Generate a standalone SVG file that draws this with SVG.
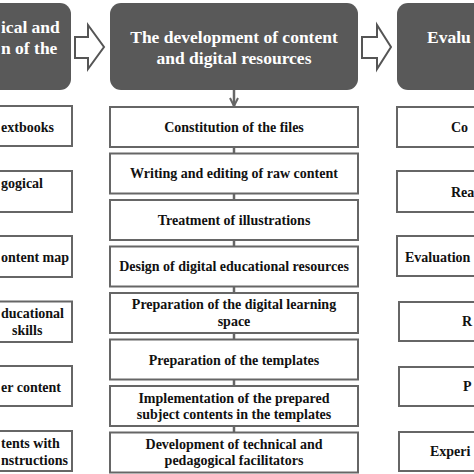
<svg xmlns="http://www.w3.org/2000/svg" width="474" height="474" viewBox="0 0 474 474">
<defs>
<style>
.hdr{fill:#595959;}
.box{fill:#fff;stroke:#666;stroke-width:2;}
.ht{font-family:"Liberation Serif",serif;font-weight:bold;font-size:17.5px;fill:#fff;}
.bt{font-family:"Liberation Serif",serif;font-weight:bold;font-size:14px;fill:#111;}
.c{text-anchor:middle;}
.e{text-anchor:end;}
.blk{fill:#fff;stroke:#555;stroke-width:2;stroke-linejoin:miter;}
.con{stroke:#666;stroke-width:2.5;fill:none;}
</style>
<marker id="vh" viewBox="0 0 10 10" refX="9" refY="5" markerWidth="10" markerHeight="10" markerUnits="userSpaceOnUse" orient="auto">
<path d="M1,1 L9,5 L1,9" fill="none" stroke="#666" stroke-width="2"/>
</marker>
</defs>
<rect width="474" height="474" fill="#fff"/>

<g id="left-header">
<rect class="hdr" x="-60" y="3" width="131" height="87" rx="11"/>
<text class="ht" x="1" y="33">ical and</text>
<text class="ht" x="1" y="54">n of the</text>
</g>
<g id="mid-header">
<rect class="hdr" x="110" y="3" width="248" height="87" rx="11"/>
<text class="ht c" x="234" y="43">The development of content</text>
<text class="ht c" x="234" y="64">and digital resources</text>
</g>
<g id="right-header">
<rect class="hdr" x="397" y="3" width="120" height="87" rx="11"/>
<text class="ht" x="427" y="43">Evalu</text>
</g>

<g id="connectors">
<path class="blk" d="M75,37 H88 V25 L104,47 L88,69 V58 H75 Z"/>
<path class="blk" d="M362,37 H377 V25 L391,47 L377,69 V58 H362 Z"/>
<line class="con" x1="234" y1="90" x2="234" y2="106" marker-end="url(#vh)"/>
<line class="con" x1="234" y1="147" x2="234" y2="153.5"/>
<line class="con" x1="234" y1="193.5" x2="234" y2="200"/>
<line class="con" x1="234" y1="240" x2="234" y2="246.5"/>
<line class="con" x1="234" y1="286.5" x2="234" y2="293"/>
<line class="con" x1="234" y1="333" x2="234" y2="339.5"/>
<line class="con" x1="234" y1="379.5" x2="234" y2="386"/>
<line class="con" x1="234" y1="426" x2="234" y2="432.5"/>
</g>

<g id="left-col">
<g id="l1"><rect class="box" x="-60" y="106" width="132" height="40"/><text class="bt" x="1" y="132">extbooks</text></g>
<g id="l2"><rect class="box" x="-60" y="171" width="132" height="41"/><text class="bt" x="1" y="188">gogical</text></g>
<g id="l3"><rect class="box" x="-60" y="236" width="132" height="41"/><text class="bt" x="1" y="262">ontent map</text></g>
<g id="l4"><rect class="box" x="-60" y="301.5" width="132" height="40.5"/><text class="bt" x="1" y="318">ducational</text><text class="bt" x="12" y="335">skills</text></g>
<g id="l5"><rect class="box" x="-60" y="366" width="132" height="40"/><text class="bt" x="1" y="392">er content</text></g>
<g id="l6"><rect class="box" x="-60" y="431" width="132" height="40"/><text class="bt" x="1" y="448">tents with</text><text class="bt" x="1" y="465">nstructions</text></g>
</g>

<g id="mid-col">
<g id="m1"><rect class="box" x="110" y="107" width="248" height="40"/><text class="bt c" x="234" y="132">Constitution of the files</text></g>
<g id="m2"><rect class="box" x="110" y="153.5" width="248" height="40"/><text class="bt c" x="234" y="178">Writing and editing of raw content</text></g>
<g id="m3"><rect class="box" x="110" y="200" width="248" height="40"/><text class="bt c" x="234" y="225">Treatment of illustrations</text></g>
<g id="m4"><rect class="box" x="110" y="246.5" width="248" height="40"/><text class="bt c" x="234" y="271">Design of digital educational resources</text></g>
<g id="m5"><rect class="box" x="110" y="293" width="248" height="40"/><text class="bt c" x="234" y="309">Preparation of the digital learning</text><text class="bt c" x="234" y="326">space</text></g>
<g id="m6"><rect class="box" x="110" y="339.5" width="248" height="40"/><text class="bt c" x="234" y="365">Preparation of the templates</text></g>
<g id="m7"><rect class="box" x="110" y="386" width="248" height="40"/><text class="bt c" x="234" y="403">Implementation of the prepared</text><text class="bt c" x="234" y="419">subject contents in the templates</text></g>
<g id="m8"><rect class="box" x="110" y="432.5" width="248" height="40"/><text class="bt c" x="234" y="449">Development of technical and</text><text class="bt c" x="234" y="465">pedagogical facilitators</text></g>
</g>

<g id="right-col">
<g id="r1"><rect class="box" x="397" y="107" width="120" height="40"/><text class="bt" x="451" y="132">Co</text></g>
<g id="r2"><rect class="box" x="397" y="171" width="120" height="41"/><text class="bt" x="451" y="197">Rea</text></g>
<g id="r3"><rect class="box" x="397" y="236" width="120" height="40"/><text class="bt" x="405" y="262">Evaluation</text></g>
<g id="r4"><rect class="box" x="399" y="302" width="120" height="39"/><text class="bt" x="462" y="326">R</text></g>
<g id="r5"><rect class="box" x="399" y="367" width="120" height="39"/><text class="bt" x="463" y="391">P</text></g>
<g id="r6"><rect class="box" x="399" y="432" width="120" height="39"/><text class="bt" x="430" y="456">Experi</text></g>
</g>
</svg>
